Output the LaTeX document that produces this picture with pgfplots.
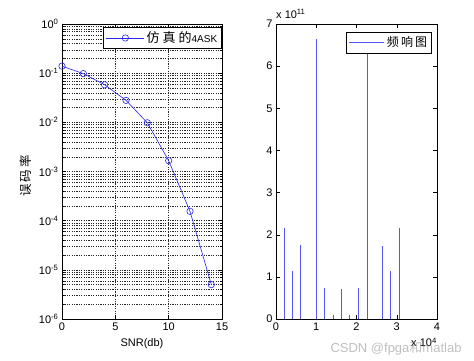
\documentclass[border=0pt]{standalone}
\usepackage{fontspec}
\setmainfont{Liberation Sans}
\newfontfamily\cjk{Noto Sans CJK SC}
\newfontfamily\cjkw[LetterSpace=18]{Noto Sans CJK SC}
\newfontfamily\cjkl[LetterSpace=23]{Noto Sans CJK SC}
\usepackage{pgfplots}
\pgfplotsset{compat=1.18}
\definecolor{mblue}{RGB}{40,40,235}
\definecolor{sblue}{RGB}{85,85,245}
\begin{document}
\begin{tikzpicture}
\path (0pt,0pt) rectangle (474pt,361pt);
\begin{axis}[
  at={(62pt,42pt)}, anchor=south west, scale only axis,
  width=160pt, height=295pt,
  ymode=log, xmin=0, xmax=15, ymin=1e-6, ymax=1,
  xtick={0,5,10,15},
  ytick={1e-6,1e-5,1e-4,1e-3,1e-2,1e-1,1},
  yticklabels={10\textsuperscript{-6},10\textsuperscript{-5},10\textsuperscript{-4},10\textsuperscript{-3},10\textsuperscript{-2},10\textsuperscript{-1},10\textsuperscript{0}},
  xticklabel style={font=\fontsize{11}{13}\selectfont},
  yticklabel style={font=\fontsize{11}{13}\selectfont},
  /pgf/number format/assume math mode=true,
  xmajorgrids, ymajorgrids, yminorgrids,
  major grid style={black!85, line width=0.35pt, dash pattern=on 1.2pt off 1.2pt},
  minor grid style={black!85, line width=0.35pt, dash pattern=on 1.2pt off 1.2pt},
  tick style={black, line width=0.4pt},
  major tick length=4pt, minor tick length=2pt,
  axis line style={line width=0.6pt},
  xlabel={SNR(db)},
  xlabel style={font=\fontsize{11}{13}\selectfont, at={(axis description cs:0.5,0)}, anchor=north, yshift=-16pt},
  ylabel={\cjkw 误码率},
  ylabel style={font=\fontsize{12.5}{14}\selectfont, at={(axis description cs:0,0.485)}, anchor=south, yshift=27pt},
  legend style={at={(axis description cs:1,0.99)}, anchor=north east, draw=black, line width=0.6pt, fill=white, font=\fontsize{10}{13}\selectfont, inner sep=2.5pt},
  legend cell align=left,
  legend image code/.code={\draw[mark repeat=2,mark phase=2,#1] plot coordinates {(0pt,0pt) (19pt,0pt) (38pt,0pt)};},
]
\addplot[mblue, line width=0.6pt, mark=o, mark size=3.2pt, mark options={line width=0.6pt}] coordinates {
  (0,0.139) (2,0.098) (4,0.058) (6,0.028) (8,0.0098) (10,0.00166) (12,1.55e-4) (14,5e-6)
};
\addlegendentry{{\cjkl\fontsize{13}{13}\selectfont 仿真的}4ASK}
\end{axis}

\begin{axis}[
  name=R,
  at={(276pt,42pt)}, anchor=south west, scale only axis,
  width=161pt, height=295pt,
  xmin=0, xmax=4, ymin=0, ymax=7,
  xtick={0,1,2,3,4}, ytick={0,1,2,3,4,5,6,7},
  xticklabel style={font=\fontsize{11}{13}\selectfont},
  yticklabel style={font=\fontsize{11}{13}\selectfont},
  /pgf/number format/assume math mode=true,
  tick style={black, line width=0.4pt},
  major tick length=4pt,
  axis line style={line width=0.6pt},
  legend style={at={(axis description cs:0.969,0.973)}, anchor=north east, draw=black, line width=0.6pt, fill=white, font=\fontsize{12}{14}\selectfont, inner sep=2.5pt},
  legend cell align=left,
  legend image code/.code={\draw[sblue, line width=0.9pt] (0pt,0pt) -- (35pt,0pt);},
]
\addplot[draw=sblue, line width=0.9pt, ycomb, mark=none] coordinates {
  (0.205,2.16) (0.41,1.15) (0.615,1.76) (1.01,6.65) (1.21,0.74) (1.42,0.10)
  (1.62,0.70) (1.83,0.10) (2.04,0.74) (2.26,6.40) (2.65,1.74) (2.85,1.15) (3.06,2.17)
};
\addlegendentry{\cjkw 频响图}
\addplot[draw=sblue, line width=0.9pt, forget plot] coordinates {(0,0) (3.25,0)};
\end{axis}
\node[anchor=base west, font=\fontsize{11}{13}\selectfont, inner sep=0pt] at ([yshift=6pt]R.north west) {x 10\textsuperscript{11}};
\node[anchor=base east, font=\fontsize{11}{13}\selectfont, inner sep=0pt] at ([yshift=-28pt]R.south east) {x 10\textsuperscript{4}};
\node[anchor=center, text=gray, opacity=0.5, font=\fontsize{13}{15}\selectfont] at (396pt,13pt) {CSDN @fpga{\cjk 和}matlab};
\end{tikzpicture}
\end{document}
